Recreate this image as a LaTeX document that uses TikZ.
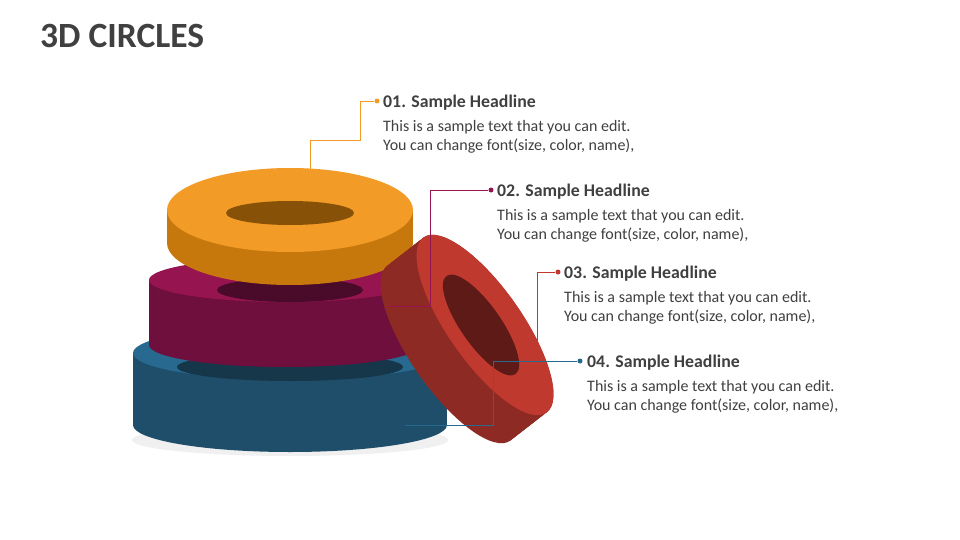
\documentclass[tikz,border=0pt]{standalone}
\usepackage{fontspec}
\setmainfont{Carlito}
\definecolor{oTop}{HTML}{F29B26}\definecolor{oSide}{HTML}{C7780D}\definecolor{oHole}{HTML}{875107}
\definecolor{mTop}{HTML}{961450}\definecolor{mSide}{HTML}{6E0F3D}\definecolor{mHole}{HTML}{4A0A2A}
\definecolor{bTop}{HTML}{27698F}\definecolor{bSide}{HTML}{1F4E6B}\definecolor{bHole}{HTML}{163649}
\definecolor{rTop}{HTML}{C0392F}\definecolor{rSide}{HTML}{8E2A24}\definecolor{rHole}{HTML}{5E1A16}
\definecolor{txt}{HTML}{404040}
\newcommand{\mycyl}[7]{% cx ytop ybot rx ry top side
  \fill[#7] (#1,#3) ellipse [x radius=#4pt,y radius=#5pt];
  \fill[#7] (#1-#4,#2) rectangle (#1+#4,#3);
  \fill[#6] (#1,#2) ellipse [x radius=#4pt,y radius=#5pt];
}
\begin{document}
\begin{tikzpicture}[x=1pt,y=-1pt,
  head/.style={anchor=west,font=\fontsize{17.8}{20}\selectfont\bfseries,text=txt,inner sep=0},
  body/.style={anchor=west,align=left,font=\fontsize{16}{18.5}\selectfont,text=txt,inner sep=0},
  link/.style={line width=0.8pt},
  dotmark/.style={circle,inner sep=0,minimum size=5pt}]
\fill[white] (0,0) rectangle (960,540);
\useasboundingbox (0,0) rectangle (960,540);
\node[anchor=west,inner sep=0,font=\fontsize{35.5}{38}\selectfont\bfseries,text=txt] (title) at (40,36) {3D CIRCLES};
% shadow
\fill[black!6] (290,440) ellipse [x radius=158pt,y radius=16pt];
% blue
\mycyl{290}{353}{425}{157}{27}{bTop}{bSide}
\fill[bHole] (290,367) ellipse [x radius=113pt,y radius=14pt];
% magenta
\mycyl{285}{280}{345}{136}{22}{mTop}{mSide}
\fill[mHole] (290,290) ellipse [x radius=73pt,y radius=12pt];
% orange
\mycyl{290}{210}{243}{123}{42}{oTop}{oSide}
\fill[oHole] (290,213) ellipse [x radius=64pt,y radius=12pt];
% red tilted ring
\foreach \t in {0,0.05,...,1.001}{
  \fill[rSide,rotate around={-55:(485-36*\t,325+28*\t)}] (485-36*\t,325+28*\t) ellipse [x radius=107pt,y radius=37pt];
}
\fill[rTop,rotate around={-55:(485,325)}] (485,325) ellipse [x radius=107pt,y radius=37pt];
\fill[rHole,rotate around={-55:(481,325)}] (481,325) ellipse [x radius=60pt,y radius=20pt];
% texts
\node[head] (h1) at (383,103) {01. Sample Headline};
\node[body] (b1) at (383,137) {This is a sample text that you can edit.\\You can change font(size, color, name),};
\node[head] (h2) at (497,192) {02. Sample Headline};
\node[body] (b2) at (497,226) {This is a sample text that you can edit.\\You can change font(size, color, name),};
\node[head] (h3) at (564,274) {03. Sample Headline};
\node[body] (b3) at (564,308) {This is a sample text that you can edit.\\You can change font(size, color, name),};
\node[head] (h4) at (587,363) {04. Sample Headline};
\node[body] (b4) at (587,397) {This is a sample text that you can edit.\\You can change font(size, color, name),};
% connectors
\node[dotmark,fill=oTop] (d1) at (377,101) {};
\node[dotmark,fill=mTop] (d2) at (491,190) {};
\node[dotmark,fill=rTop] (d3) at (558,272) {};
\node[dotmark,fill=bTop] (d4) at (580,361) {};
\coordinate (e1) at (310,170);
\coordinate (e2) at (388,306);
\coordinate (e3) at (520,361);
\coordinate (e4) at (405,425);
\draw[link,oTop] (d1) -- (360,101) -- (360,140) -- (310,140) -- (e1);
\draw[link,mTop] (d2) -- (430,190) -- (430,306) -- (e2);
\draw[link,rTop] (d3) -- (537,272) -- (537,361) -- (e3);
\draw[link,bTop] (d4) -- (493,361) -- (493,425) -- (e4);
\end{tikzpicture}
\end{document}
